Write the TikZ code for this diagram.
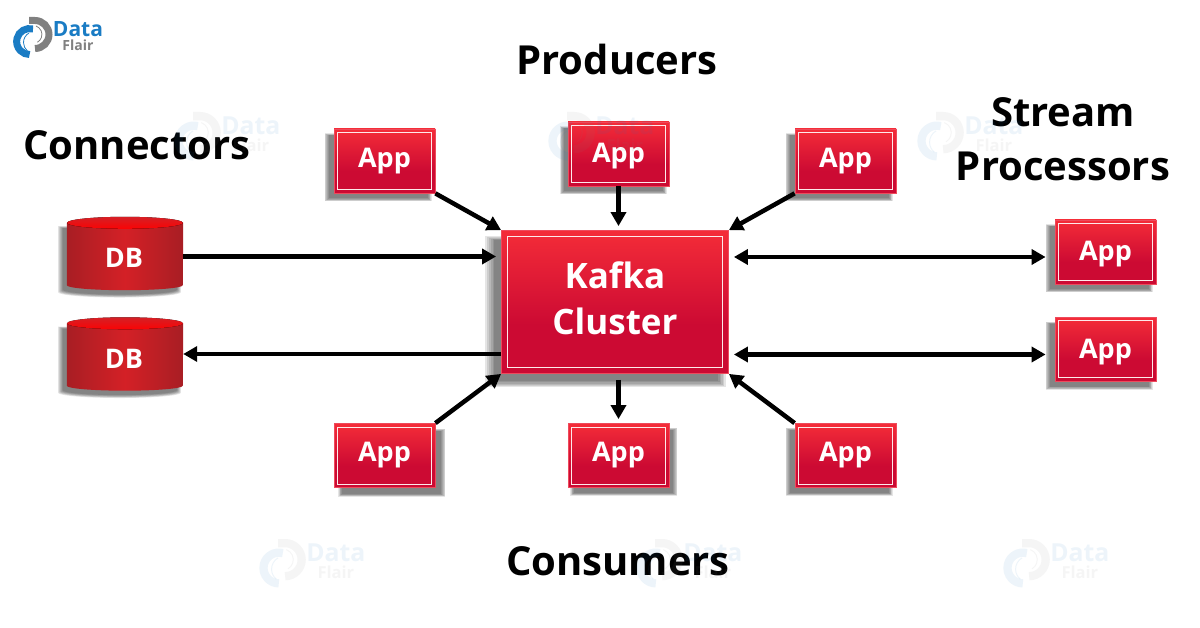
\documentclass[tikz,border=0pt]{standalone}
\usepackage{fontspec}
\setmainfont{Open Sans}
\usetikzlibrary{arrows.meta,calc,shadows}
\definecolor{boxTop}{HTML}{F42C38}
\definecolor{boxLow}{HTML}{CC0A33}
\definecolor{boxEdge}{HTML}{EE4A5C}
\definecolor{dbSide}{HTML}{A81E24}
\definecolor{dbMid}{HTML}{D42026}
\definecolor{logoBlue}{HTML}{1A7CC4}
\definecolor{logoGray}{HTML}{808080}
\pgfdeclareverticalshading{redbox}{100bp}{color(0bp)=(boxLow); color(42bp)=(boxLow); color(75bp)=(boxTop); color(100bp)=(boxTop)}
\def\logoK{1}
\begin{document}
\begin{tikzpicture}
        [x=1pt,y=-1pt,>={Triangle[length=14pt,width=15pt]},
        softlayer/.style n args={3}{general shadow={shadow xshift=#1,shadow yshift=#2,fill=black,opacity=.1,shadow scale=#3}},
        softshadow/.style 2 args={
            softlayer={#1}{#2}{1.06},softlayer={#1}{#2}{1.045},softlayer={#1}{#2}{1.03},
            softlayer={#1}{#2}{1.015},softlayer={#1}{#2}{1},softlayer={#1}{#2}{.985}},
        redbox/.style 2 args={rectangle,draw=boxEdge,line width=.8pt,shading=redbox,text=white,inner sep=0pt,
            path picture={\draw[white!90!boxTop,line width=#2] ($(path picture bounding box.north west)+(#1,#1)$) rectangle ($(path picture bounding box.south east)+(-#1,-#1)$);}},
        app/.style={redbox={3.5}{1pt},minimum width=101pt,minimum height=64pt,font=\fontsize{27}{32}\bfseries},
        applow/.style={app,text depth=2pt},
        cluster/.style={redbox={6}{1.6pt},minimum width=227pt,minimum height=143pt,align=center,text depth=8pt,font=\fontsize{35}{46}\bfseries},
        db/.style={rectangle,minimum width=116pt,minimum height=73pt,inner sep=0pt},
        dbbody/.style={left color=dbSide,right color=dbSide,middle color=dbMid,softshadow={-5pt}{-5pt}},
        dbtop/.style={top color=dbMid,bottom color=red!90!dbMid},
        dbtext/.style={text=white,font=\fontsize{27}{32}\bfseries,inner sep=0pt},
        heading/.style={font=\fontsize{40}{54}\bfseries,align=center,text=black},
        conn/.style={line width=4.5pt,draw=black},
        logo/.pic={
            \draw[logoBlue,line width=\logoK*7pt] (21,12) arc[start angle=75,end angle=270,radius=13pt];
            \draw[logoGray,line width=\logoK*7pt] (17,3.5) -- (23,3.5) arc[start angle=90,end angle=-90,radius=14pt];
            \draw[logoBlue,line width=\logoK*.8pt] (17,16) arc[start angle=120,end angle=230,radius=11pt];
            \draw[logoGray,line width=\logoK*.8pt] (24,9) arc[start angle=70,end angle=-60,radius=9pt];
            \node[logoBlue,transform shape,font=\fontsize{21}{24}\bfseries,inner sep=0pt] (word) at (66,12) {Data};
            \node[logoGray,transform shape,font=\fontsize{14}{16}\bfseries,inner sep=0pt] (sub) at (66,28) {Flair};
        }]
        \fill[white] (0,0) rectangle (1200,628);
        \useasboundingbox (0,0) rectangle (1200,628);

        \node[cluster,softshadow={-9pt}{-9pt}] (kafka) at (615,302) {Kafka\\Cluster};

        \node[app,softshadow={-6pt}{-6pt}] (appPa) at (384.5,161) {App};
        \node[applow,softshadow={-5pt}{-6pt}] (appPb) at (618.5,154) {App};
        \node[app,softshadow={-6pt}{-6pt}] (appPc) at (845.5,161) {App};
        \node[app,softshadow={7pt}{-7pt}] (appCa) at (384.5,455.5) {App};
        \node[app,softshadow={5pt}{-6pt}] (appCb) at (618.5,455.5) {App};
        \node[app,softshadow={-6pt}{-6pt}] (appCc) at (845.5,455.5) {App};
        \node[applow,softshadow={-6pt}{-6pt}] (appSa) at (1105.5,252) {App};
        \node[applow,softshadow={-6pt}{-6pt}] (appSb) at (1105.5,349.5) {App};

        \node[db] (dbIn) at (125,253.5) {};
        \node[db] (dbOut) at (125,354) {};
        \foreach \dbname in {dbIn,dbOut}{
            \path[dbbody] ($(\dbname.north west)+(0,6)$) -- ($(\dbname.south west)+(0,-5)$)
                arc[start angle=180,end angle=360,x radius=58pt,y radius=5pt] -- ($(\dbname.north east)+(0,6)$) -- cycle;
            \fill[dbtop] ($(\dbname.north)+(0,6)$) ellipse [x radius=58pt,y radius=6pt];
        }
        \node[dbtext] (dbInText) at (124,258) {DB};
        \node[dbtext] (dbOutText) at (124,359) {DB};

        \node[heading] (producers) at (617,60) {Producers};
        \node[heading] (consumers) at (618,561) {Consumers};
        \node[heading] (connectors) at (137,145) {Connectors};
        \node[heading] (processors) at (1063,139) {Stream\\Processors};

        \draw[conn,->] ($(dbIn.east)+(0,3)$) -- ($(dbIn.east -| kafka.west)+(-5,3)$);
        \draw[conn,->] (kafka.west |- dbOut.east) -- (dbOut.east);

        \draw[conn,->] (appPa.south east) -- (kafka.north west);
        \draw[conn,->,shorten >=4pt] (appPb.south) -- (appPb.south |- kafka.north);
        \draw[conn,->] (appPc.south west) -- (kafka.north east);

        \draw[conn,->] (appCa.north east) -- (kafka.south west);
        \draw[conn,->,shorten <=6pt,shorten >=4pt] (appCb.north |- kafka.south) -- (appCb.north);
        \draw[conn,->] (appCc.north west) -- (kafka.south east);

        \draw[conn,<->,shorten <=5pt,shorten >=9pt] ($(kafka.east |- appSa.west)+(0,5)$) -- ($(appSa.west)+(0,5)$);
        \draw[conn,<->,shorten <=5pt,shorten >=9pt] ($(kafka.east |- appSb.west)+(0,5)$) -- ($(appSb.west)+(0,5)$);

        \pic (logoMain) at (12,17) {logo};
        \begin{scope}[opacity=.08]
            \def\logoK{1.18}
            \pic[scale=1.18] (markA) at (173,112) {logo};
            \pic[scale=1.18] (markB) at (547,112) {logo};
            \pic[scale=1.18] (markC) at (916,112) {logo};
            \pic[scale=1.18] (markD) at (258,539) {logo};
            \pic[scale=1.18] (markE) at (635,539) {logo};
            \pic[scale=1.18] (markF) at (1002,539) {logo};
        \end{scope}
    \end{tikzpicture}
\end{document}
